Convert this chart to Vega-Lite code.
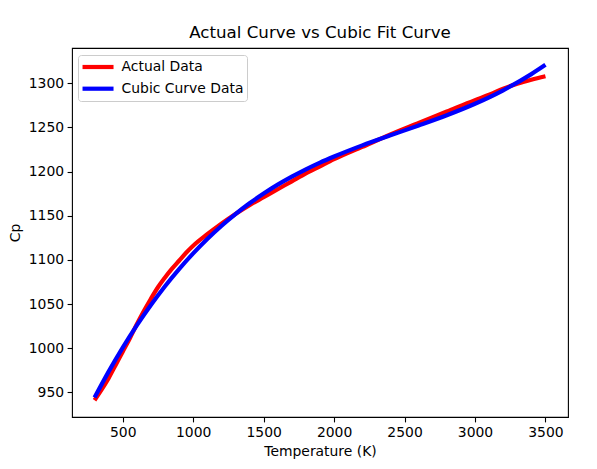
{
  "$schema": "https://vega.github.io/schema/vega-lite/v6.json",
  "width": 496,
  "height": 369,
  "autosize": {"type": "none"},
  "padding": {"left": 72, "top": 48, "right": 29, "bottom": 52},
  "background": "white",
  "title": {
    "text": "Actual Curve vs Cubic Fit Curve",
    "font": "DejaVu Sans",
    "fontSize": 16.67,
    "fontWeight": "normal",
    "color": "black",
    "anchor": "middle",
    "offset": 6
  },
  "config": {
    "view": {"stroke": "black", "strokeWidth": 1.1},
    "font": "DejaVu Sans",
    "axis": {
      "grid": false,
      "domain": false,
      "labelFont": "DejaVu Sans",
      "titleFont": "DejaVu Sans",
      "labelFontSize": 13.9,
      "titleFontSize": 13.9,
      "titleFontWeight": "normal",
      "labelColor": "black",
      "titleColor": "black",
      "tickColor": "black",
      "tickSize": 4.9,
      "tickWidth": 1.1,
      "labelPadding": 3.5,
      "format": "d"
    }
  },
  "data": {
    "values": [
      {"T": 300, "Cp": 941, "series": "Actual Data"},
      {"T": 350, "Cp": 953, "series": "Actual Data"},
      {"T": 400, "Cp": 966, "series": "Actual Data"},
      {"T": 450, "Cp": 981, "series": "Actual Data"},
      {"T": 500, "Cp": 996, "series": "Actual Data"},
      {"T": 550, "Cp": 1011, "series": "Actual Data"},
      {"T": 600, "Cp": 1027, "series": "Actual Data"},
      {"T": 650, "Cp": 1042, "series": "Actual Data"},
      {"T": 700, "Cp": 1056, "series": "Actual Data"},
      {"T": 750, "Cp": 1069, "series": "Actual Data"},
      {"T": 800, "Cp": 1080, "series": "Actual Data"},
      {"T": 850, "Cp": 1090, "series": "Actual Data"},
      {"T": 900, "Cp": 1099, "series": "Actual Data"},
      {"T": 950, "Cp": 1108, "series": "Actual Data"},
      {"T": 1000, "Cp": 1116, "series": "Actual Data"},
      {"T": 1100, "Cp": 1129, "series": "Actual Data"},
      {"T": 1200, "Cp": 1141, "series": "Actual Data"},
      {"T": 1300, "Cp": 1152, "series": "Actual Data"},
      {"T": 1400, "Cp": 1162, "series": "Actual Data"},
      {"T": 1500, "Cp": 1171, "series": "Actual Data"},
      {"T": 1600, "Cp": 1180, "series": "Actual Data"},
      {"T": 1700, "Cp": 1189, "series": "Actual Data"},
      {"T": 1800, "Cp": 1198, "series": "Actual Data"},
      {"T": 1900, "Cp": 1206, "series": "Actual Data"},
      {"T": 2000, "Cp": 1214, "series": "Actual Data"},
      {"T": 2200, "Cp": 1228, "series": "Actual Data"},
      {"T": 2400, "Cp": 1242, "series": "Actual Data"},
      {"T": 2600, "Cp": 1255, "series": "Actual Data"},
      {"T": 2800, "Cp": 1268, "series": "Actual Data"},
      {"T": 3000, "Cp": 1281, "series": "Actual Data"},
      {"T": 3100, "Cp": 1287, "series": "Actual Data"},
      {"T": 3200, "Cp": 1294, "series": "Actual Data"},
      {"T": 3300, "Cp": 1299.5, "series": "Actual Data"},
      {"T": 3400, "Cp": 1304, "series": "Actual Data"},
      {"T": 3500, "Cp": 1308, "series": "Actual Data"},
      {"T": 300, "Cp": 944.0, "series": "Cubic Curve Data"},
      {"T": 400, "Cp": 973.4, "series": "Cubic Curve Data"},
      {"T": 500, "Cp": 1000.6, "series": "Cubic Curve Data"},
      {"T": 600, "Cp": 1025.7, "series": "Cubic Curve Data"},
      {"T": 700, "Cp": 1048.8, "series": "Cubic Curve Data"},
      {"T": 800, "Cp": 1070.1, "series": "Cubic Curve Data"},
      {"T": 900, "Cp": 1089.5, "series": "Cubic Curve Data"},
      {"T": 1000, "Cp": 1107.3, "series": "Cubic Curve Data"},
      {"T": 1100, "Cp": 1123.6, "series": "Cubic Curve Data"},
      {"T": 1200, "Cp": 1138.4, "series": "Cubic Curve Data"},
      {"T": 1300, "Cp": 1151.8, "series": "Cubic Curve Data"},
      {"T": 1400, "Cp": 1164.1, "series": "Cubic Curve Data"},
      {"T": 1500, "Cp": 1175.1, "series": "Cubic Curve Data"},
      {"T": 1600, "Cp": 1185.2, "series": "Cubic Curve Data"},
      {"T": 1700, "Cp": 1194.3, "series": "Cubic Curve Data"},
      {"T": 1800, "Cp": 1202.6, "series": "Cubic Curve Data"},
      {"T": 1900, "Cp": 1210.2, "series": "Cubic Curve Data"},
      {"T": 2000, "Cp": 1217.1, "series": "Cubic Curve Data"},
      {"T": 2200, "Cp": 1229.7, "series": "Cubic Curve Data"},
      {"T": 2400, "Cp": 1241.1, "series": "Cubic Curve Data"},
      {"T": 2600, "Cp": 1252.2, "series": "Cubic Curve Data"},
      {"T": 2800, "Cp": 1263.8, "series": "Cubic Curve Data"},
      {"T": 3000, "Cp": 1276.8, "series": "Cubic Curve Data"},
      {"T": 3200, "Cp": 1292.1, "series": "Cubic Curve Data"},
      {"T": 3400, "Cp": 1310.4, "series": "Cubic Curve Data"},
      {"T": 3500, "Cp": 1320.9, "series": "Cubic Curve Data"}
    ]
  },
  "mark": {"type": "line", "strokeWidth": 4.2, "interpolate": "monotone", "clip": true},
  "encoding": {
    "x": {
      "field": "T",
      "type": "quantitative",
      "scale": {"domain": [140, 3660], "nice": false, "zero": false},
      "axis": {"title": "Temperature (K)", "values": [500, 1000, 1500, 2000, 2500, 3000, 3500], "titlePadding": 5}
    },
    "y": {
      "field": "Cp",
      "type": "quantitative",
      "scale": {"domain": [922, 1340], "nice": false, "zero": false},
      "axis": {"title": "Cp", "values": [950, 1000, 1050, 1100, 1150, 1200, 1250, 1300], "titlePadding": 6}
    },
    "color": {
      "field": "series",
      "type": "nominal",
      "scale": {"domain": ["Actual Data", "Cubic Curve Data"], "range": ["#ff0000", "#0000ff"]},
      "legend": {
        "title": null,
        "orient": "none",
        "legendX": 6,
        "legendY": 7,
        "symbolType": "M-1.15,0L3.62,0",
        "symbolSize": 169,
        "symbolStrokeWidth": 4.2,
        "labelFont": "DejaVu Sans",
        "labelFontSize": 13.9,
        "labelColor": "black",
        "labelOffset": 22.6,
        "rowPadding": 3.7,
        "padding": 3,
        "strokeColor": "#cccccc",
        "fillColor": "rgba(255,255,255,0.8)",
        "cornerRadius": 3
      }
    }
  }
}
